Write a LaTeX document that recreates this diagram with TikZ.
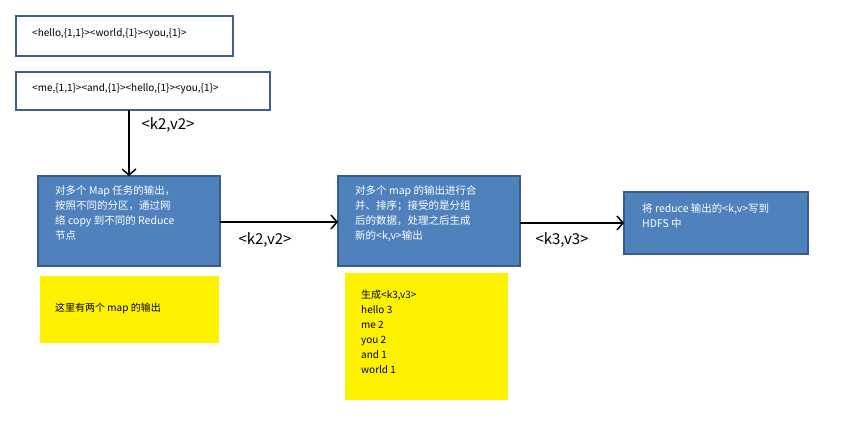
\documentclass[tikz,border=0pt]{standalone}
\usepackage{fontspec}
\setmainfont{Noto Sans CJK SC}
\usetikzlibrary{arrows.meta}
\definecolor{bb}{HTML}{4F81BD}
\definecolor{bd}{HTML}{385D8A}
\definecolor{wb}{HTML}{3F5F8F}
\begin{document}
\begin{tikzpicture}[x=1pt,y=-1pt,
 wbox/.style={draw=wb,line width=1.5pt,fill=white},
 bbox/.style={draw=bd,line width=2.5pt,fill=bb},
 ybox/.style={fill=yellow},
 btxt/.style={text=white,font=\fontsize{10.5}{15}\selectfont,align=left,anchor=north west,inner sep=0},
 stxt/.style={font=\fontsize{10}{15}\selectfont,align=left,anchor=north west,inner sep=0},
 lab/.style={font=\fontsize{15}{18}\selectfont},
 arr/.style={line width=1.5pt,-{Straight Barb[length=6pt,width=14pt]}}]
\useasboundingbox (0,0) rectangle (863,421);
\draw[wbox] (16,16) rectangle (233,56);
\node[stxt,anchor=west] (t1) at (32,34) {<hello,\{1,1\}><world,\{1\}><you,\{1\}>};
\draw[wbox] (16,72) rectangle (270,110);
\node[stxt,anchor=west] (t2) at (32,89) {<me,\{1,1\}><and,\{1\}><hello,\{1\}><you,\{1\}>};
\coordinate (b2) at (129,110);
\draw[bbox] (38,176) rectangle (220,266);
\coordinate (b3t) at (129,176);
\node[btxt] (m) at (55,185) {对多个 Map 任务的输出，\\按照不同的分区，通过网\\络 copy 到不同的 Reduce\\节点};
\draw[bbox] (338,176) rectangle (520,266);
\node[btxt] (r) at (355,185) {对多个 map 的输出进行合\\并、排序；接受的是分组\\后的数据，处理之后生成\\新的<k,v>输出};
\draw[bbox] (624,192) rectangle (808,254);
\node[btxt] (h) at (642,203) {将 reduce 输出的<k,v>写到\\HDFS 中};
\fill[ybox] (40,276) rectangle (219,343);
\node[stxt,anchor=west] (y1) at (55,308) {这里有两个 map 的输出};
\fill[ybox] (345,273) rectangle (508,400);
\node[stxt] (y2) at (361,290) {生成<k3,v3>\\hello 3\\me 2\\you 2\\and 1\\world 1};
\draw[arr] (b2) -- (b3t);
\node[lab] (l1) at (168,125) {<k2,v2>};
\coordinate (a1) at (220,222); \coordinate (a2) at (338,222);
\draw[arr] (a1) -- (a2);
\node[lab] (l2) at (265,240) {<k2,v2>};
\coordinate (a3) at (520,223); \coordinate (a4) at (624,223);
\draw[arr] (a3) -- (a4);
\node[lab] (l3) at (562,240) {<k3,v3>};
\end{tikzpicture}
\end{document}
